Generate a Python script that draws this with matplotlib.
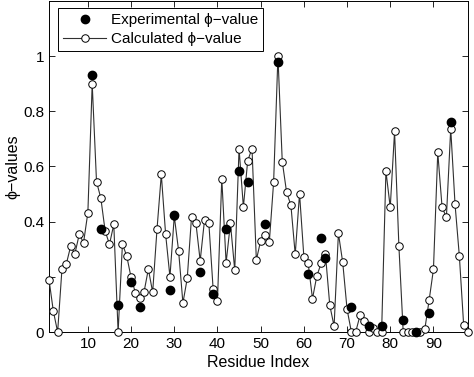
import matplotlib
matplotlib.use("Agg")
import matplotlib.pyplot as plt
import numpy as np

plt.rcParams["font.family"] = ["Liberation Sans", "DejaVu Sans"]

# calculated phi-values, residues 1..98
residues = np.arange(1, 99)
calc_phi = [0.19, 0.076, 0.0, 0.228, 0.246, 0.31, 0.284, 0.354, 0.324, 0.433,
            0.90, 0.545, 0.485, 0.366, 0.318, 0.39, 0.0, 0.319, 0.275, 0.198,
            0.142, 0.122, 0.145, 0.228, 0.144, 0.372, 0.571, 0.354, 0.2, 0.42,
            0.295, 0.105, 0.194, 0.418, 0.396, 0.258, 0.406, 0.396, 0.155, 0.114,
            0.556, 0.251, 0.394, 0.224, 0.665, 0.453, 0.621, 0.665, 0.261, 0.331,
            0.352, 0.325, 0.543, 1.0, 0.618, 0.507, 0.46, 0.281, 0.502, 0.273,
            0.249, 0.121, 0.203, 0.249, 0.281, 0.097, 0.021, 0.358, 0.252, 0.083,
            0.0, 0.0, 0.06, 0.04, 0.0, 0.015, 0.0, 0.0, 0.583, 0.452,
            0.727, 0.312, 0.0, 0.0, 0.0, 0.0, 0.0, 0.01, 0.115, 0.227,
            0.651, 0.452, 0.416, 0.737, 0.463, 0.275, 0.024, 0.0]

# experimental phi-values
exp_res = [11, 13, 17, 20, 22, 29, 30, 36, 39, 42, 45, 47, 51, 54, 61, 64,
           65, 71, 75, 78, 83, 86, 89, 94]
exp_phi = [0.93, 0.373, 0.098, 0.18, 0.089, 0.151, 0.425, 0.218, 0.139, 0.375,
           0.582, 0.542, 0.39, 0.98, 0.21, 0.34, 0.269, 0.09, 0.02, 0.02,
           0.042, 0.0, 0.069, 0.76]

xticks = [10, 20, 30, 40, 50, 60, 70, 80, 90]
yticks = [0, 0.2, 0.4, 0.6, 0.8, 1]
ytick_labels = ["0", "", "0.4", "0.6", "0.8", "1"]

fig = plt.figure(figsize=(4.74, 3.77), dpi=100)
ax = fig.add_axes([49 / 474, 45 / 377, 419 / 474, 331 / 377])

ax.plot(residues, calc_phi, color="#303030", lw=0.8, marker="o", ms=5.4,
        mfc="white", mec="black", mew=0.7, clip_on=False, zorder=3,
        label="Calculated \u03d5\u2212value")
ax.plot(exp_res, exp_phi, ls="none", marker="o", ms=6, mfc="black",
        mec="black", clip_on=False, zorder=4,
        label="Experimental \u03d5\u2212value")

ax.set_xlim(1, 98)
ax.set_ylim(0, 1.2)
ax.set_xticks(xticks)
ax.set_yticks(yticks)
ax.set_yticklabels(ytick_labels)
ax.tick_params(direction="in", top=True, right=True, length=4, width=0.6,
               labelsize=11, colors="black")
for s in ax.spines.values():
    s.set_linewidth(0.7)
ax.set_xlabel("Residue Index", fontsize=11.5, labelpad=3)
ax.set_ylabel("\u03d5\u2212values", fontsize=11.5, labelpad=2)

h, l = ax.get_legend_handles_labels()
leg = ax.legend(h[::-1], l[::-1], loc="upper left", fontsize=11,
                fancybox=False, edgecolor="black", framealpha=1,
                bbox_to_anchor=(0.021, 0.979), borderaxespad=0, borderpad=0.35,
                handlelength=2.8, labelspacing=0.3, handletextpad=0.3)
leg.get_frame().set_linewidth(0.7)

fig.savefig("out.png", dpi=100)
